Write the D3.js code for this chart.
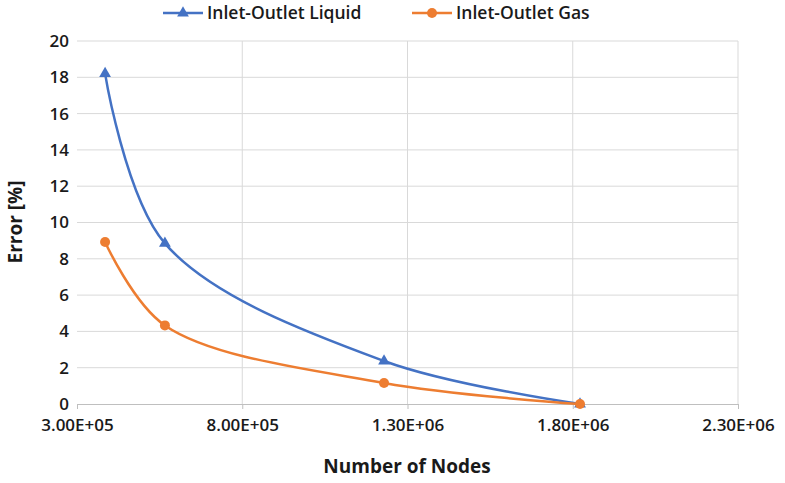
<!DOCTYPE html>
<html><head><meta charset="utf-8">
<script src="https://cdn.jsdelivr.net/npm/d3@7"></script>
<style>body{margin:0;background:#fff}text{font-family:"Open Sans",sans-serif}</style>
</head><body><svg id="c" width="785" height="483"></svg>
<script>
const nodes = [385000, 566000, 1229000, 1822000];
const liquid = [18.2, 8.85, 2.37, 0];
const gas = [8.93, 4.33, 1.16, 0];
const xTicks = [300000, 800000, 1300000, 1800000, 2300000];
const yTicks = [0,2,4,6,8,10,12,14,16,18,20];
const svg = d3.select("#c");
const x = d3.scaleLinear().domain([300000,2300000]).range([77,738]);
const y = d3.scaleLinear().domain([0,20]).range([404,41]);
svg.append("g").selectAll("line").data(xTicks.slice(1)).join("line")
 .attr("x1",d=>x(d)).attr("x2",d=>x(d)).attr("y1",y(0)).attr("y2",y(20)).attr("stroke","#d9d9d9");
svg.append("g").selectAll("line").data(yTicks.slice(1)).join("line")
 .attr("x1",x(300000)).attr("x2",x(2300000)).attr("y1",d=>y(d)).attr("y2",d=>y(d)).attr("stroke","#d9d9d9");
const xa = svg.append("g").attr("transform","translate(0,404)")
 .call(d3.axisBottom(x).tickValues(xTicks).tickSize(5).tickFormat(d=>d.toExponential(2).toUpperCase().replace("E+","E+0")));
const ya = svg.append("g").attr("transform","translate(77,0)")
 .call(d3.axisLeft(y).tickValues(yTicks).tickSize(0).tickPadding(8));
[xa,ya].forEach(a=>{a.selectAll("text").attr("font-size",17).attr("font-weight",600).attr("fill","#1a1a1a").style("font-family","Open Sans");a.select(".domain").attr("stroke","#bfbfbf");a.selectAll(".tick line").attr("stroke","#bfbfbf");});
xa.selectAll("text").attr("dy","1.1em");
ya.select(".domain").remove();
const line = d3.line().x(d=>x(d[0])).y(d=>y(d[1])).curve(d3.curveCatmullRom.alpha(0.5));
const series = [{v:liquid,c:"#4472c4",m:"tri"},{v:gas,c:"#ed7d31",m:"circ"}];
series.forEach(s=>{
 const pts = nodes.map((n,i)=>[n,s.v[i]]);
 svg.append("path").attr("d",line(pts)).attr("fill","none").attr("stroke",s.c).attr("stroke-width",2.5);
 pts.forEach(p=>{
  if(s.m==="tri") svg.append("path").attr("d",d3.symbol(d3.symbolTriangle,60)()).attr("transform",`translate(${x(p[0])},${y(p[1])})`).attr("fill",s.c);
  else svg.append("circle").attr("cx",x(p[0])).attr("cy",y(p[1])).attr("r",5).attr("fill",s.c);
 });
});
const lg = svg.append("g");
lg.append("line").attr("x1",163).attr("x2",203).attr("y1",13).attr("y2",13).attr("stroke","#4472c4").attr("stroke-width",2.5);
lg.append("path").attr("d",d3.symbol(d3.symbolTriangle,60)()).attr("transform","translate(183,13)").attr("fill","#4472c4");
lg.append("text").attr("x",207).attr("y",19).attr("font-size",17.5).attr("font-weight",600).attr("fill","#1a1a1a").text("Inlet-Outlet Liquid");
lg.append("line").attr("x1",412).attr("x2",452).attr("y1",13).attr("y2",13).attr("stroke","#ed7d31").attr("stroke-width",2.5);
lg.append("circle").attr("cx",432).attr("cy",13).attr("r",5).attr("fill","#ed7d31");
lg.append("text").attr("x",456).attr("y",19).attr("font-size",17.5).attr("font-weight",600).attr("fill","#1a1a1a").text("Inlet-Outlet Gas");
svg.append("text").attr("x",407).attr("y",473).attr("text-anchor","middle").attr("font-size",19).attr("font-weight","bold").attr("fill","#1a1a1a").text("Number of Nodes");
svg.append("text").attr("transform","translate(22,222) rotate(-90)").attr("text-anchor","middle").attr("font-size",19).attr("font-weight","bold").attr("fill","#1a1a1a").text("Error [%]");
</script></body></html>
